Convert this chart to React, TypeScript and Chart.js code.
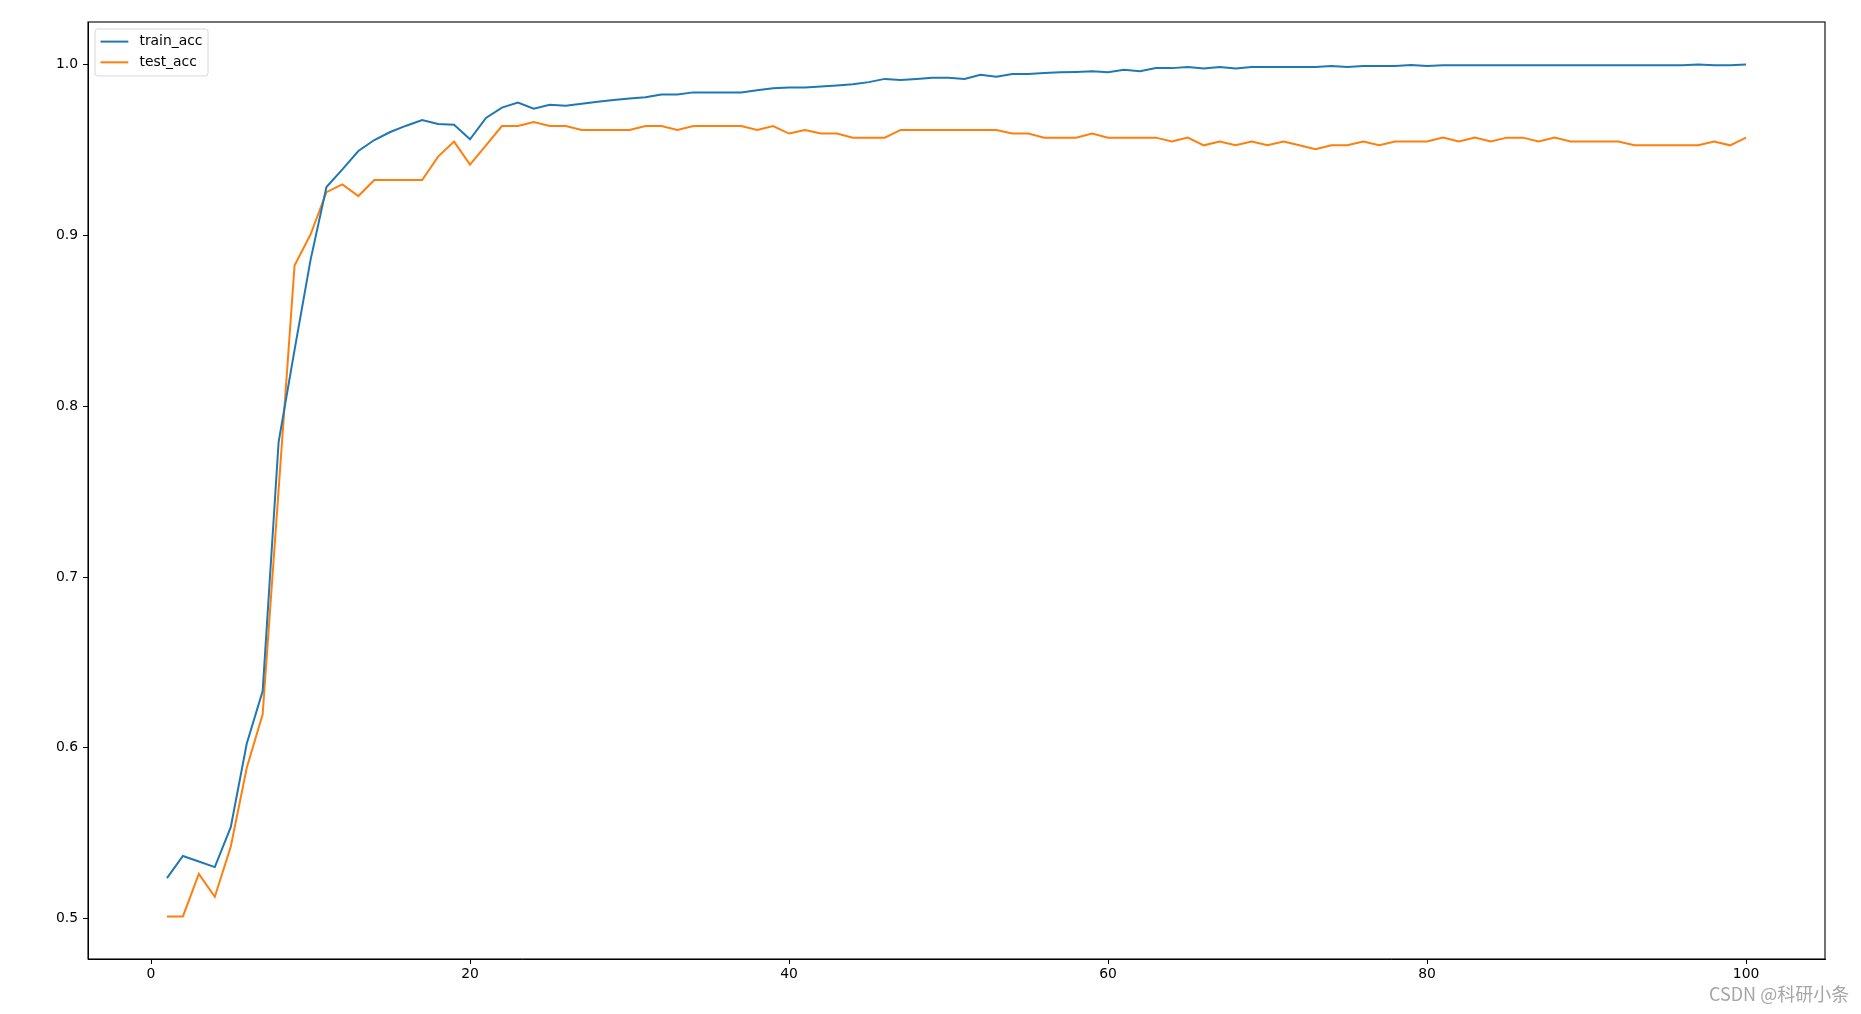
import React, { useEffect, useRef } from "react";
import { Chart, registerables } from "chart.js";

Chart.register(...registerables);

const epochs = [
  1, 2, 3, 4, 5, 6, 7, 8, 9, 10, 11, 12, 13, 14, 15, 16, 17, 18, 19, 20,
  21, 22, 23, 24, 25, 26, 27, 28, 29, 30, 31, 32, 33, 34, 35, 36, 37, 38, 39, 40,
  41, 42, 43, 44, 45, 46, 47, 48, 49, 50, 51, 52, 53, 54, 55, 56, 57, 58, 59, 60,
  61, 62, 63, 64, 65, 66, 67, 68, 69, 70, 71, 72, 73, 74, 75, 76, 77, 78, 79, 80,
  81, 82, 83, 84, 85, 86, 87, 88, 89, 90, 91, 92, 93, 94, 95, 96, 97, 98, 99, 100,
];

const trainAcc = [
  0.5237, 0.5367, 0.5335, 0.5302, 0.5536, 0.6024, 0.6332, 0.779, 0.833, 0.8855,
  0.9283, 0.9386, 0.9494, 0.9558, 0.9605, 0.9642, 0.9675, 0.9652, 0.9648, 0.9562,
  0.9687, 0.9748, 0.9777, 0.9742, 0.9765, 0.9759, 0.977, 0.9782, 0.9792, 0.9801,
  0.9808, 0.9825, 0.9825, 0.9837, 0.9837, 0.9837, 0.9837, 0.9849, 0.9861, 0.9865,
  0.9865, 0.9871, 0.9877, 0.9885, 0.9897, 0.9916, 0.991, 0.9916, 0.9922, 0.9922,
  0.9916, 0.994, 0.9928, 0.9945, 0.9945, 0.9951, 0.9955, 0.9957, 0.9961, 0.9955,
  0.9969, 0.9961, 0.9979, 0.9979, 0.9985, 0.9977, 0.9985, 0.9977, 0.9985, 0.9985,
  0.9985, 0.9985, 0.9985, 0.9992, 0.9985, 0.9992, 0.9992, 0.9992, 0.9998, 0.9992,
  0.9996, 0.9996, 0.9996, 0.9996, 0.9996, 0.9996, 0.9996, 0.9996, 0.9996, 0.9996,
  0.9996, 0.9996, 0.9996, 0.9996, 0.9996, 0.9996, 1.0, 0.9996, 0.9996, 1.0,
];

const testAcc = [
  0.5013, 0.5013, 0.5262, 0.5128, 0.5421, 0.5882, 0.6196, 0.751, 0.8824, 0.9005,
  0.9253, 0.9298, 0.923, 0.9324, 0.9324, 0.9324, 0.9324, 0.9461, 0.9549, 0.9414,
  0.9527, 0.964, 0.964, 0.9664, 0.964, 0.964, 0.9617, 0.9617, 0.9617, 0.9617,
  0.964, 0.964, 0.9617, 0.964, 0.964, 0.964, 0.964, 0.9617, 0.964, 0.9596,
  0.9617, 0.9596, 0.9596, 0.9572, 0.9572, 0.9572, 0.9617, 0.9617, 0.9617, 0.9617,
  0.9617, 0.9617, 0.9617, 0.9596, 0.9596, 0.9572, 0.9572, 0.9572, 0.9596, 0.9572,
  0.9572, 0.9572, 0.9572, 0.9549, 0.9572, 0.9527, 0.9549, 0.9527, 0.9549, 0.9527,
  0.9549, 0.9527, 0.9504, 0.9527, 0.9527, 0.9549, 0.9527, 0.9549, 0.9549, 0.9549,
  0.9572, 0.9549, 0.9572, 0.9549, 0.9572, 0.9572, 0.9549, 0.9572, 0.9549, 0.9549,
  0.9549, 0.9549, 0.9527, 0.9527, 0.9527, 0.9527, 0.9527, 0.9549, 0.9527, 0.9572,
];

const xTickValues = [0, 20, 40, 60, 80, 100];
const yTickValues = [0.5, 0.6, 0.7, 0.8, 0.9, 1.0];

const seriesLabels = ["train_acc", "test_acc"];
const seriesColors = ["#1f77b4", "#ff7f0e"];

const FONT = "DejaVu Sans";
const FS = 13.9;

const boxPlugin = {
  id: "mplBox",
  afterDraw(chart: any) {
    const { ctx, chartArea } = chart;
    const { left, top, right, bottom } = chartArea;
    ctx.save();
    ctx.strokeStyle = "#000";
    ctx.lineWidth = 1.1;
    ctx.strokeRect(left, top, right - left, bottom - top);

    // legend (matplotlib-style, upper left inside axes)
    const em = FS;
    ctx.font = `${FS}px "${FONT}"`;
    const datasets = chart.data.datasets;
    let maxW = 0;
    datasets.forEach((d: any) => {
      maxW = Math.max(maxW, ctx.measureText(d.label).width);
    });
    const bx = left + 0.5 * em;
    const by = top + 0.5 * em;
    const pad = 0.4 * em;
    const handleLen = 2 * em;
    const handlePad = 0.8 * em;
    const rowH = 20.7;
    const bw = pad + handleLen + handlePad + maxW + pad;
    const bh = 2 * pad + rowH * datasets.length - (rowH - 15.2);
    const r = 3;
    ctx.beginPath();
    ctx.moveTo(bx + r, by);
    ctx.lineTo(bx + bw - r, by);
    ctx.quadraticCurveTo(bx + bw, by, bx + bw, by + r);
    ctx.lineTo(bx + bw, by + bh - r);
    ctx.quadraticCurveTo(bx + bw, by + bh, bx + bw - r, by + bh);
    ctx.lineTo(bx + r, by + bh);
    ctx.quadraticCurveTo(bx, by + bh, bx, by + bh - r);
    ctx.lineTo(bx, by + r);
    ctx.quadraticCurveTo(bx, by, bx + r, by);
    ctx.closePath();
    ctx.fillStyle = "rgba(255,255,255,0.8)";
    ctx.fill();
    ctx.strokeStyle = "rgba(204,204,204,0.8)";
    ctx.lineWidth = 1;
    ctx.stroke();

    datasets.forEach((d: any, i: number) => {
      const cy = by + pad + 7.1 + i * rowH;
      ctx.beginPath();
      ctx.strokeStyle = d.borderColor;
      ctx.lineWidth = 2;
      ctx.moveTo(bx + pad, cy);
      ctx.lineTo(bx + pad + handleLen, cy);
      ctx.stroke();
      ctx.fillStyle = "#000";
      ctx.textBaseline = "middle";
      ctx.textAlign = "left";
      ctx.fillText(d.label, bx + pad + handleLen + handlePad, cy);
    });
    ctx.restore();
  },
};

export default function App() {
  const canvasRef = useRef<HTMLCanvasElement | null>(null);

  useEffect(() => {
    document.body.style.margin = "0";
    const canvas = canvasRef.current;
    if (!canvas) return;
    const chart = new Chart(canvas, {
      type: "line",
      data: {
        datasets: [
          {
            label: seriesLabels[0],
            data: epochs.map((e, i) => ({ x: e, y: trainAcc[i] })),
            borderColor: seriesColors[0],
            backgroundColor: seriesColors[0],
            borderWidth: 2,
            pointRadius: 0,
            tension: 0,
          },
          {
            label: seriesLabels[1],
            data: epochs.map((e, i) => ({ x: e, y: testAcc[i] })),
            borderColor: seriesColors[1],
            backgroundColor: seriesColors[1],
            borderWidth: 2,
            pointRadius: 0,
            tension: 0,
          },
        ],
      },
      options: {
        animation: false,
        responsive: false,
        devicePixelRatio: 1,
        layout: { padding: { top: 22, right: 36, left: 0, bottom: 0 } },
        plugins: {
          legend: { display: false },
          tooltip: { enabled: false },
        },
        scales: {
          x: {
            type: "linear",
            min: -3.95,
            max: 104.95,
            afterBuildTicks: (scale: any) => {
              scale.ticks = xTickValues.map((v) => ({ value: v }));
            },
            afterFit: (scale: any) => {
              scale.height = 55;
            },
            grid: {
              display: true,
              drawOnChartArea: false,
              drawTicks: true,
              tickLength: 5,
              color: "#000",
              lineWidth: 1,
            },
            border: { display: true, color: "#000", width: 1 },
            ticks: {
              color: "#000",
              padding: 2,
              maxRotation: 0,
              autoSkip: false,
              font: { family: FONT, size: FS },
              callback: (v: any) => String(v),
            },
          },
          y: {
            type: "linear",
            min: 0.4764,
            max: 1.0249,
            afterBuildTicks: (scale: any) => {
              scale.ticks = yTickValues.map((v) => ({ value: v }));
            },
            afterFit: (scale: any) => {
              scale.width = 88;
            },
            grid: {
              display: true,
              drawOnChartArea: false,
              drawTicks: true,
              tickLength: 5,
              color: "#000",
              lineWidth: 1,
            },
            border: { display: true, color: "#000", width: 1 },
            ticks: {
              color: "#000",
              padding: 5,
              autoSkip: false,
              font: { family: FONT, size: FS },
              callback: (v: any) => Number(v).toFixed(1),
            },
          },
        },
      },
      plugins: [boxPlugin],
    });
    return () => chart.destroy();
  }, []);

  return (
    <div style={{ position: "relative", width: 1861, height: 1014, background: "#fff" }}>
      <canvas ref={canvasRef} width={1861} height={1014} style={{ display: "block" }} />
      <div
        style={{
          position: "absolute",
          left: 1709,
          top: 982,
          fontFamily: '"Noto Sans CJK SC", "DejaVu Sans", sans-serif',
          fontSize: 18,
          lineHeight: "22px",
          color: "#a6a6a6",
          whiteSpace: "nowrap",
        }}
      >
        CSDN @科研小条
      </div>
    </div>
  );
}
